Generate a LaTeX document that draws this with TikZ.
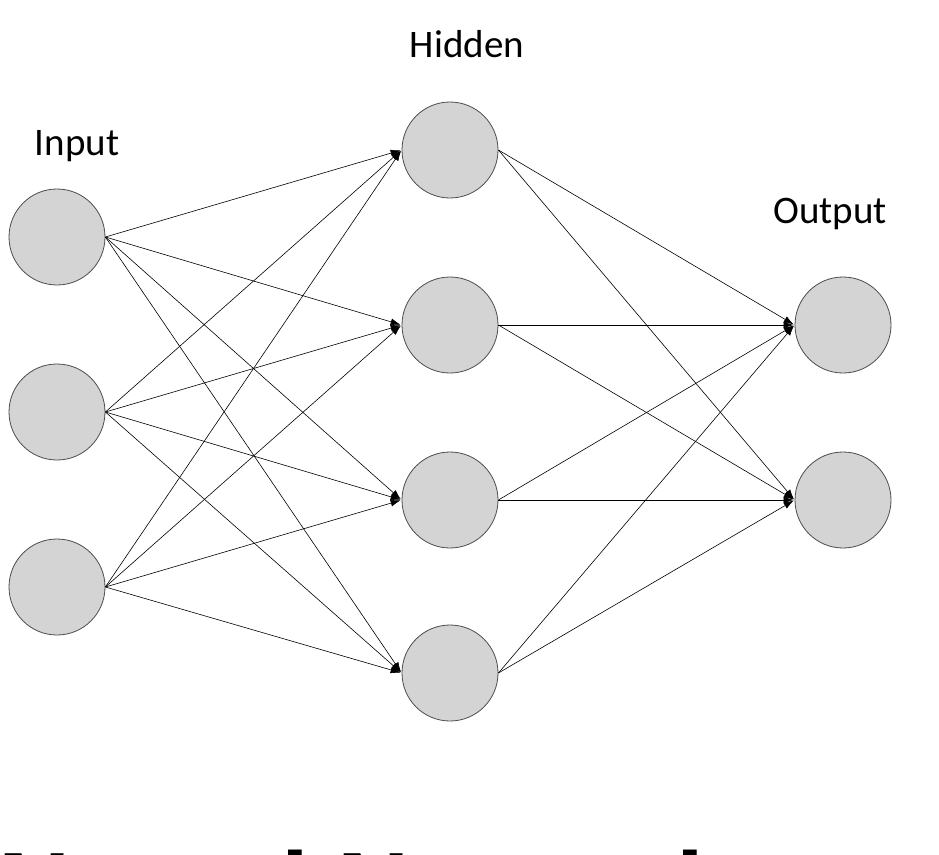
\documentclass[tikz,border=0pt]{standalone}
\usepackage{fontspec}
\setmainfont{Carlito}
\newfontfamily\bigsans{Liberation Sans}
\usetikzlibrary{arrows.meta}
\begin{document}
\begin{tikzpicture}[x=1pt,y=-1pt,
  neuron/.style={circle,draw=black!70,fill=black!17,line width=0.8pt,minimum size=96pt,inner sep=0pt},
  conn/.style={-{Latex[length=10pt,width=7pt]},line width=0.6pt,shorten >=1pt},
  lbl/.style={font=\fontsize{39}{44}\selectfont}]
\useasboundingbox (0,0) rectangle (939,854);
\clip (0,0) rectangle (939,854);
\fill[white] (0,0) rectangle (939,854);
\node[neuron] (i1) at (57,237) {};
\node[neuron] (i2) at (57,412) {};
\node[neuron] (i3) at (57,587) {};
\node[neuron] (h1) at (450,150) {};
\node[neuron] (h2) at (450,325) {};
\node[neuron] (h3) at (450,500) {};
\node[neuron] (h4) at (450,673) {};
\node[neuron] (o1) at (843,325) {};
\node[neuron] (o2) at (843,500) {};
\node[lbl] (li) at (77,146) {Input};
\node[lbl] (lh) at (467,44) {Hidden};
\node[lbl] (lo) at (830,214) {Output};
\foreach \i in {i1,i2,i3}{\foreach \h in {h1,h2,h3,h4}{\draw[conn] (\i.east) -- (\h.west);}}
\foreach \h in {h1,h2,h3,h4}{\foreach \o in {o1,o2}{\draw[conn] (\h.east) -- (\o.west);}}
\node[anchor=base west,inner sep=0pt,font=\bigsans\bfseries\fontsize{100}{110}\selectfont] (title) at (-2,922) {Neural Network};
\end{tikzpicture}
\end{document}
